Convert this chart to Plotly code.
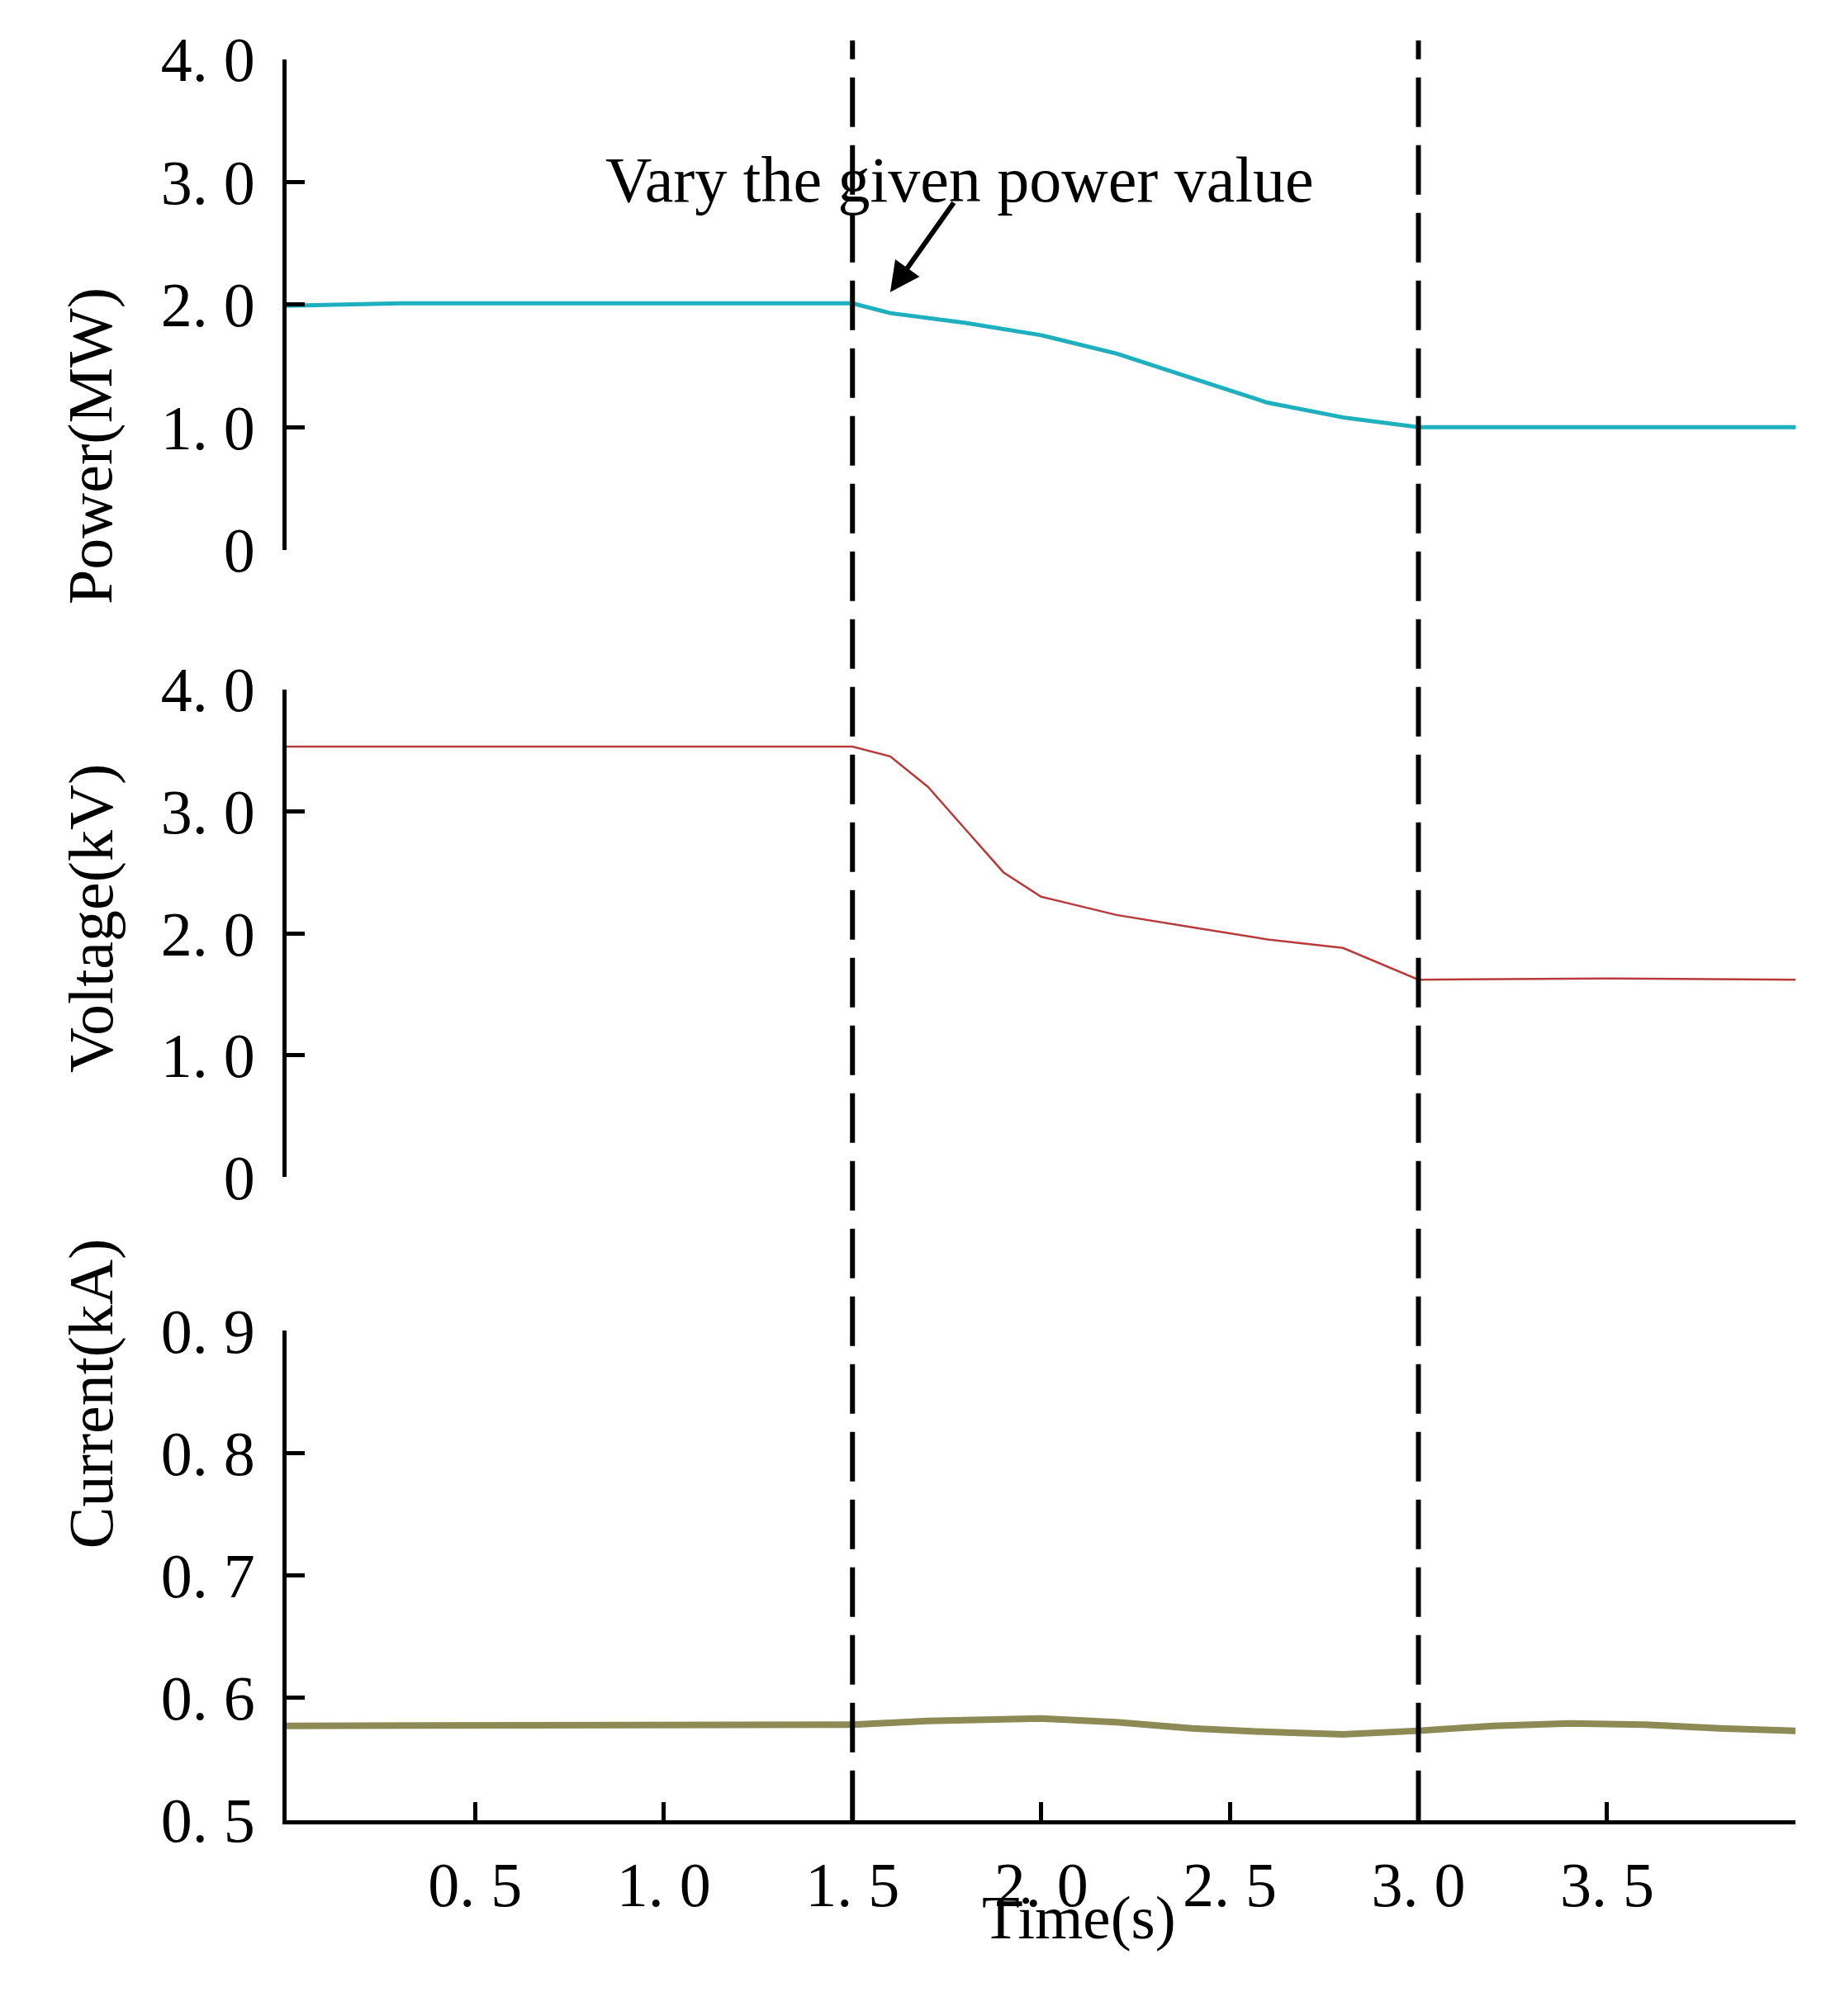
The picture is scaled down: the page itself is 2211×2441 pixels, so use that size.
import plotly.graph_objects as go

# data
t_power = [0.0, 0.3, 1.0, 1.5, 1.6, 1.8, 2.0, 2.2, 2.4, 2.6, 2.8, 3.0, 3.5, 4.07]
power = [1.99, 2.01, 2.01, 2.01, 1.93, 1.85, 1.75, 1.6, 1.4, 1.2, 1.08, 1.0, 1.0, 1.0]

t_volt = [0.0, 1.0, 1.5, 1.6, 1.7, 1.8, 1.9, 2.0, 2.2, 2.4, 2.6, 2.8, 2.9, 3.0, 3.5, 4.0]
voltage = [3.53, 3.53, 3.53, 3.45, 3.2, 2.85, 2.5, 2.3, 2.15, 2.05, 1.95, 1.88, 1.75, 1.62, 1.63, 1.62]

t_curr = [0.0, 1.0, 1.5, 1.7, 1.9, 2.0, 2.2, 2.4, 2.6, 2.8, 3.0, 3.2, 3.4, 3.6, 3.8, 4.0]
current = [0.577, 0.577, 0.578, 0.581, 0.583, 0.583, 0.580, 0.575, 0.572, 0.570, 0.573, 0.577, 0.579, 0.578, 0.575, 0.573]

x_ticks = [0.5, 1.0, 1.5, 2.0, 2.5, 3.0, 3.5, 4.0]
x_labels = ['0. 5', '1. 0', '1. 5', '2. 0', '2. 5', '3. 0', '3. 5', '4. 0']
pv_ticks = [0, 1, 2, 3, 4]
pv_labels = ['0', '1. 0', '2. 0', '3. 0', '4. 0']
i_ticks = [0.5, 0.6, 0.7, 0.8, 0.9]
i_labels = ['0. 5', '0. 6', '0. 7', '0. 8', '0. 9']
events = [1.5, 3.0]

FONT = 'Liberation Serif'
fig = go.Figure()
fig.add_trace(go.Scatter(x=t_power, y=power, mode='lines', line=dict(color='#1fb0bf', width=5),
                         xaxis='x', yaxis='y'))
fig.add_trace(go.Scatter(x=t_volt, y=voltage, mode='lines', line=dict(color='#b83a3a', width=2.5),
                         xaxis='x2', yaxis='y2'))
fig.add_trace(go.Scatter(x=t_curr, y=current, mode='lines', line=dict(color='#8d8a55', width=8),
                         xaxis='x3', yaxis='y3'))

dom_x = [0.1533, 0.9798]
xr = [0, 4.0]
yax = dict(showgrid=False, zeroline=False, showline=True, linecolor='black', linewidth=5,
           ticks='inside', ticklen=22, tickwidth=5, tickcolor='black', ticklabelstandoff=18,
           tickfont=dict(family=FONT, size=76, color='black'))
fig.update_layout(
    width=2211, height=2441, autosize=False, showlegend=False,
    margin=dict(l=0, r=0, t=0, b=0),
    plot_bgcolor='white', paper_bgcolor='white',
    xaxis=dict(domain=dom_x, range=xr, visible=False, anchor='y'),
    xaxis2=dict(domain=dom_x, range=xr, visible=False, anchor='y2'),
    xaxis3=dict(domain=dom_x, range=xr, anchor='y3', showgrid=False, zeroline=False,
                showline=True, linecolor='black', linewidth=5, ticks='inside', ticklen=22,
                tickwidth=5, tickcolor='black', tickvals=x_ticks, ticktext=x_labels,
                ticklabelstandoff=8, tickfont=dict(family=FONT, size=76, color='black')),
    yaxis=dict(domain=[0.7383, 0.9904], range=[0, 4], tickvals=pv_ticks, ticktext=pv_labels,
               anchor='x', **yax),
    yaxis2=dict(domain=[0.4160, 0.6667], range=[0, 4], tickvals=pv_ticks, ticktext=pv_labels,
                anchor='x2', **yax),
    yaxis3=dict(domain=[0.0858, 0.3372], range=[0.5, 0.9], tickvals=i_ticks, ticktext=i_labels,
                anchor='x3', **yax),
)

for t in events:
    fig.add_shape(type='line', xref='x3', yref='paper', x0=t, x1=t, y0=0.0858, y1=1.0,
                  line=dict(color='black', width=6, dash='60px,22px'))

titles = [('Power(MW)', 0.874), ('Voltage(kV)', 0.549), ('Current(kA)', 0.2243)]
for text, yc in titles:
    fig.add_annotation(text=text, xref='paper', yref='paper', x=0.026, y=yc, textangle=-90,
                       showarrow=False, font=dict(family=FONT, size=76, color='black'))
fig.add_annotation(text='Time(s)', xref='paper', yref='paper', x=0.5875, y=0.0175,
                   showarrow=False, font=dict(family=FONT, size=75, color='black'))
fig.add_annotation(text='Vary the given power value', xref='paper', yref='paper', x=0.717, y=0.948,
                   showarrow=False, font=dict(family=FONT, size=78, color='black'))
fig.add_annotation(text='', x=1.6, y=2.1, xref='x', yref='y', ax=78, ay=-110,
                   showarrow=True, arrowhead=2, arrowsize=1.2,
                   arrowwidth=6, arrowcolor='black')

fig.write_html("out.html")
